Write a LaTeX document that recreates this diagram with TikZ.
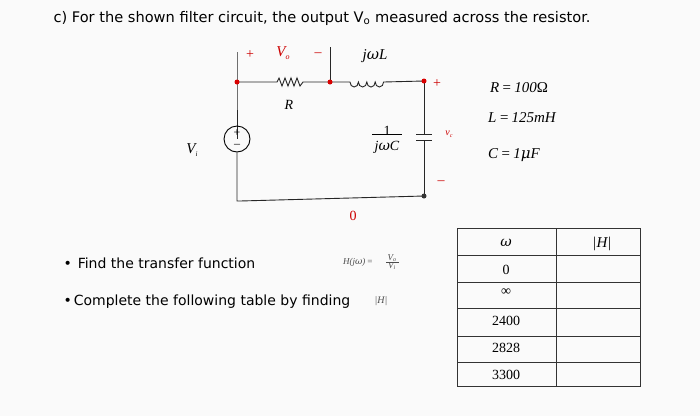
\documentclass[tikz,border=0pt]{standalone}
\usepackage{amsmath}
\usepackage{fontspec}
\newfontfamily\serf{Liberation Serif}
\newfontfamily\txtfont{DejaVu Sans}
\newfontfamily\symf{DejaVu Serif}
\newcommand{\frc}[2]{\begin{tabular}{@{}c@{}}#1\\[-2pt]\rule{0pt}{0pt}\end{tabular}}
\begin{document}
\begin{tikzpicture}[x=1pt,y=-1pt,
  wire/.style={line width=0.9pt,black!85},
  dotr/.style={circle,fill=red!85!black,inner sep=0pt,minimum size=5pt},
  dotk/.style={circle,fill=black!80,inner sep=0pt,minimum size=5pt},
  lbl/.style={font=\serf\fontsize{14}{16}\selectfont\itshape},
  rlbl/.style={font=\serf\fontsize{14}{16}\selectfont,text=red!80!black},
  txt/.style={font=\txtfont\fontsize{14}{17}\selectfont,anchor=west},
  cell/.style={font=\serf\fontsize{14}{16}\selectfont}]
\useasboundingbox (0,0) rectangle (700,416);
\fill[white!96!gray] (0,0) rectangle (700,416);
\node[txt,font=\txtfont\fontsize{14.6}{17}\selectfont] (title) at (50,18) {c) For the shown filter circuit, the output V\textsubscript{o} measured across the resistor.};
% circuit coordinates
\coordinate (A) at (237,82);
\coordinate (Atop) at (237,52);
\coordinate (M) at (330,82);
\coordinate (Mtop) at (330,47);
\coordinate (B) at (424,81);
\coordinate (D) at (424,196);
\coordinate (S) at (237,139);
\coordinate (BL) at (240,201);
% left branch
\draw[wire] (Atop) -- (A) -- (S);
\node[circle,draw,line width=0.9pt,minimum size=26pt,inner sep=0pt] (src) at (S) {};
\node[font=\serf\fontsize{12}{12}\selectfont] (sp) at (237,133) {+};
\node[font=\serf\fontsize{12}{12}\selectfont] (sm) at (237,146) {\textendash};
\draw[wire] (src.south) |- (BL) -- (D);
% resistor
\draw[wire] (A) -- (277,82) -- (279,78) -- (282,86) -- (285,78) -- (288,86) -- (291,78) -- (294,86) -- (297,78) -- (300,86) -- (303,82) -- (M);
\draw[wire] (Mtop) -- (M);
% inductor
\draw[wire] (M) -- (350,82) arc(180:0:4.2 and 5) arc(180:0:4.2 and 5) arc(180:0:4.2 and 5) arc(180:0:4.2 and 5) -- (B);
% capacitor
\draw[wire] (B) -- (424,134) (416,134) -- (432,134) (416,140) -- (432,140) (424,140) -- (D);
\node[dotr] (nA) at (A) {};
\node[dotr] (nM) at (M) {};
\node[dotr] (nB) at (B) {};
\node[dotk] (nD) at (D) {};
% labels
\node[rlbl] (lp) at (250,55) {+};
\node[rlbl,font=\serf\fontsize{15}{16}\selectfont\itshape] (lvo) at (283,53) {V\raisebox{-3pt}{\fontsize{8}{8}\selectfont o}};
\node[rlbl] (lm) at (318,55) {\textendash};
\node[lbl,font=\serf\fontsize{15}{16}\selectfont\itshape] (lL) at (375,56) {j{\symf\itshape ω}L};
\node[lbl] (lR) at (289,105) {R};
\node[lbl,font=\serf\fontsize{15}{16}\selectfont\itshape] (lVi) at (192,150) {V\raisebox{-3pt}{\fontsize{7}{7}\selectfont i}};
\node[lbl,align=center] (lC) at (387,140) {\upshape 1\\[-1pt]j{\symf\itshape ω}C};
\draw[line width=0.6pt] (372,134) -- (402,134);
\node[rlbl,font=\serf\fontsize{10}{12}\selectfont\itshape] (lvc) at (449,134) {v\raisebox{-2pt}{\fontsize{6}{6}\selectfont c}};
\node[rlbl] (lcp) at (437,84) {+};
\node[rlbl] (lcm) at (441,183) {\textendash};
\node[rlbl] (l0) at (353,216) {0};
\node[lbl,font=\serf\fontsize{15}{16}\selectfont\itshape] (pR) at (519,88) {R\,=\,100{\upshape Ω}};
\node[lbl,font=\serf\fontsize{15}{16}\selectfont\itshape] (pL) at (522,118) {L\,=\,125mH};
\node[lbl,font=\serf\fontsize{15}{16}\selectfont\itshape] (pC) at (514,155) {C\,=\,1{\symf\itshape μ}F};
% bullets
\node[txt] (b1) at (60,263) {•\hspace{6pt}Find the transfer function};
\node[txt] (b2) at (60,302) {•\hspace{2pt}Complete the following table by finding};
\node[font=\serf\fontsize{9}{10}\selectfont\itshape,text=black!70] (H) at (358,262) {H(j{\symf ω})\,=};
\node[font=\serf\fontsize{9}{10}\selectfont\itshape,text=black!70,align=center] (Hf) at (392,262) {V\textsubscript{o}\\[-2pt]V\textsubscript{i}};
\draw[black!70,line width=0.5pt] (386,262) -- (399,262);
\node[font=\serf\fontsize{10}{11}\selectfont\itshape,text=black!70] (absH) at (381,301) {|H|};
% table
\draw[line width=0.9pt,black!80] (457,228) rectangle (640,386);
\foreach \y in {255,282,308,336,362} \draw[line width=0.9pt,black!80] (457,\y) -- (640,\y);
\draw[line width=0.9pt,black!80] (556,228) -- (556,386);
\node[cell] (c0) at (506,243) {\symf\itshape ω};
\node[cell,font=\serf\fontsize{15}{16}\selectfont\itshape] (h0) at (602,244) {|H|};
\node[cell] (c1) at (506,270) {0};
\node[cell] (c2) at (506,292) {∞};
\node[cell] (c3) at (506,321) {2400};
\node[cell] (c4) at (506,348) {2828};
\node[cell] (c5) at (506,375) {3300};
\end{tikzpicture}
\end{document}
